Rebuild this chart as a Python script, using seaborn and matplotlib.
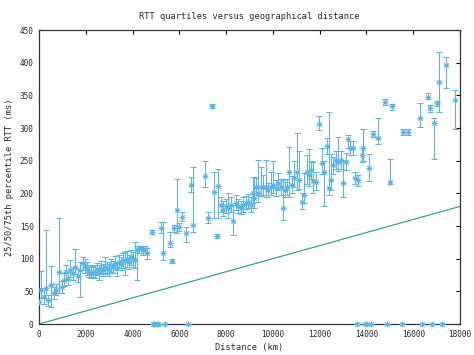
import numpy as np
import pandas as pd
import seaborn as sns
import matplotlib
matplotlib.use("Agg")
import matplotlib.pyplot as plt

# distance (km) and RTT quartiles (ms)
distance_km = [0, 100, 200, 290, 390, 510, 640, 730, 860, 980, 1070, 1150, 1240, 1330, 1450,
               1540, 1670, 1750, 1880, 1970, 2050, 2150, 2230, 2320, 2400, 2480, 2570, 2650,
               2740, 2820, 2900, 2990, 3070, 3160, 3240, 3330, 3410, 3500, 3580, 3670, 3750,
               3840, 3920, 4000, 4100, 4200, 4280, 4360, 4440, 4520, 4600, 4820, 5200, 5310,
               5600, 5690, 5770, 5900, 5990, 6100, 6290, 6480, 6590, 7100, 7210, 7380, 7480,
               7600, 7660, 7780, 7870, 7980, 8080, 8210, 8300, 8410, 8510, 8640, 8720, 8840,
               8940, 9060, 9150, 9190, 9280, 9360, 9490, 9580, 9710, 9790, 9910, 10000, 10130,
               10220, 10340, 10420, 10520, 10600, 10690, 10800, 10900, 11020, 11120, 11230,
               11330, 11450, 11550, 11630, 11720, 11830, 11970, 12090, 12190, 12300, 12400,
               12490, 12570, 12690, 12790, 12900, 13000, 13110, 13200, 13300, 13430, 13510,
               13640, 13800, 13870, 14110, 14300, 14480, 14800, 15010, 15110, 15580, 15790,
               16290, 16620, 16720, 16890, 17000, 17120, 17400, 17810]
rtt_p50 = [34, 52, 41, 55, 37, 60, 47, 52, 80, 57, 67, 80, 69, 83, 78,
           87, 73, 83, 93, 89, 84, 80, 77, 80, 78, 84, 80, 86,
           82, 88, 85, 82, 90, 87, 92, 85, 95, 92, 98, 96, 100,
           95, 103, 100, 98, 114, 116, 116, 114, 115, 108, 141, 147, 109,
           124, 96, 147, 175, 148, 164, 139, 213, 152, 227, 163, 334, 202,
           135, 211, 182, 175, 180, 177, 182, 157, 185, 180, 177, 182, 185,
           187, 182, 200, 193, 210, 200, 210, 210, 210, 205, 210, 213, 208,
           216, 210, 177, 205, 210, 233, 213, 223, 233, 220, 187,
           197, 233, 228, 236, 219, 218, 306, 246, 233, 272, 208,
           220, 243, 251, 248, 251, 216, 248, 283, 269, 269, 223,
           220, 259, 269, 239, 291, 285, 340, 218, 333, 294, 294,
           315, 348, 330, 308, 338, 371, 396, 343]
rtt_p25 = [0, 40, 30, 44, 28, 26, 38, 44, 47, 48, 58, 68, 60, 72, 68,
           76, 64, 41, 82, 78, 75, 72, 70, 72, 70, 75, 68, 77,
           74, 78, 77, 73, 80, 78, 82, 73, 85, 82, 86, 75, 88,
           84, 90, 88, 85, 67, 108, 108, 106, 108, 100, 138, 140, 98,
           118, 93, 141, 139, 142, 158, 126, 202, 141, 210, 155, 330, 162,
           132, 162, 172, 165, 170, 162, 172, 136, 175, 170, 168, 172, 176,
           177, 172, 186, 177, 198, 187, 196, 198, 194, 194, 198, 200, 196,
           205, 198, 159, 194, 198, 194, 200, 210, 205, 206, 176,
           185, 215, 212, 222, 200, 205, 297, 230, 180, 260, 197,
           205, 230, 238, 235, 238, 195, 236, 270, 258, 258, 214,
           212, 248, 250, 219, 286, 275, 336, 214, 328, 290, 290,
           302, 344, 325, 253, 333, 325, 361, 298]
rtt_p75 = [55, 81, 52, 144, 45, 89, 57, 62, 162, 66, 78, 90, 80, 98, 88,
           115, 84, 95, 103, 100, 95, 90, 88, 89, 90, 94, 90, 96,
           92, 103, 95, 92, 100, 97, 104, 95, 105, 102, 108, 110, 112,
           105, 113, 110, 125, 120, 120, 120, 119, 119, 116, 144, 156, 156,
           141, 99, 152, 222, 155, 172, 149, 225, 241, 249, 172, 337, 233,
           138, 237, 195, 188, 192, 200, 195, 182, 197, 192, 188, 195, 196,
           199, 194, 225, 225, 223, 251, 241, 228, 251, 216, 232, 250, 220,
           231, 222, 220, 218, 222, 271, 226, 250, 292, 265, 200,
           231, 259, 268, 250, 248, 232, 318, 269, 250, 284, 325,
           261, 256, 265, 286, 265, 251, 262, 290, 280, 280, 232,
           228, 270, 298, 261, 296, 315, 344, 252, 337, 298, 298,
           338, 353, 336, 315, 342, 417, 409, 358]

# samples with a zero median (drawn on the x axis)
zero_km = [4880, 4930, 4980, 5040, 5100, 5380, 6380, 13600, 13960, 14020, 14190,
           14890, 15510, 16380, 16820, 17220]

# speed-of-light reference line
line_km = [0, 18000]
line_ms = [0, 180]

blue = "#5CB3E6"
green = "#1A9E77"

sns.set_theme(style="white")
plt.rcParams["font.family"] = ["DejaVu Sans Mono"]
plt.rcParams["xtick.direction"] = "in"
plt.rcParams["ytick.direction"] = "in"

df = pd.DataFrame({"km": distance_km, "p50": rtt_p50, "p25": rtt_p25, "p75": rtt_p75})
zeros = pd.DataFrame({"km": zero_km, "p50": [0] * len(zero_km)})

fig = plt.figure(figsize=(4.74, 3.55), dpi=100)
ax = fig.add_axes([0.0823, 0.0873, 0.888, 0.828])

# error bars (25th to 75th percentile)
yerr = np.array([df["p50"] - df["p25"], df["p75"] - df["p50"]])
ax.errorbar(df["km"], df["p50"], yerr=yerr, fmt="none", ecolor=blue,
            elinewidth=0.75, capsize=2.0, capthick=0.75)

star = (8, 2, 0)
sns.scatterplot(data=df, x="km", y="p50", marker=star, s=13, color=blue,
                linewidth=0.6, ax=ax, zorder=3)
sns.scatterplot(data=zeros, x="km", y="p50", marker=star, s=13, color=blue,
                linewidth=0.6, ax=ax, zorder=3, clip_on=False)
sns.lineplot(x=line_km, y=line_ms, color=green, linewidth=0.8, ax=ax)

ax.set_xlim(0, 18000)
ax.set_ylim(0, 450)
ax.set_xticks(range(0, 18001, 2000))
ax.set_yticks(range(0, 451, 50))
ax.tick_params(axis="both", labelsize=5.6, length=3, width=0.8, color="black",
               top=True, right=True, pad=4)
for s in ax.spines.values():
    s.set_color("#333333")
    s.set_linewidth(0.9)

ax.set_title("RTT quartiles versus geographical distance", fontsize=6.2, pad=8)
ax.set_xlabel("Distance (km)", fontsize=6.2, labelpad=3)
ax.set_ylabel("25/50/75th percentile RTT (ms)", fontsize=6.2, labelpad=4)

fig.savefig("out.png", dpi=100)
